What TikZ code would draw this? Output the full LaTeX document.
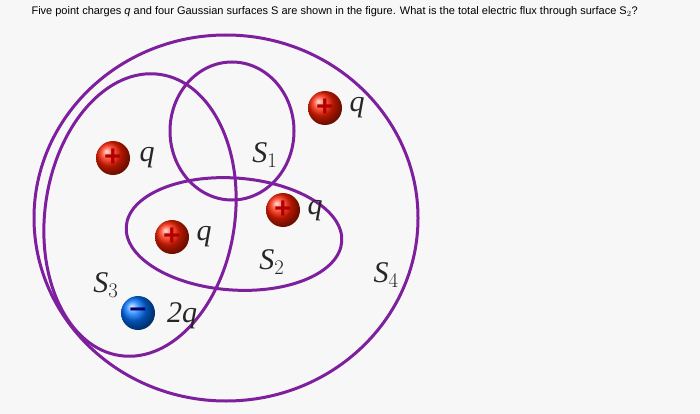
\documentclass[tikz,border=0pt]{standalone}
\usepackage{fontspec}
\setmainfont{Liberation Sans}
\newfontfamily\serifb{Liberation Serif}
\definecolor{surfc}{HTML}{7E1F9E}
\begin{document}
\begin{tikzpicture}[x=1pt,y=-1pt,
 surf/.style={draw=surfc,line width=3pt},
 poscharge/.style={circle,minimum size=34pt,inner sep=0pt,ball color=red!75!orange,text=red!70!black,font=\bfseries\fontsize{30}{30}\selectfont},
 negcharge/.style={circle,minimum size=34pt,inner sep=0pt,ball color=blue!55!cyan,text=blue!40!black,font=\bfseries\fontsize{30}{30}\selectfont},
 lab/.style={font=\serifb\itshape\fontsize{30}{30}\selectfont,text=black!85}]
\fill[white!94!gray] (0,0) rectangle (700,414);
\useasboundingbox (0,0) rectangle (700,414);
\node[anchor=west,font=\fontsize{11}{11}\selectfont] (t) at (28,12) {Five point charges \textit{q} and four Gaussian surfaces S are shown in the figure. What is the total electric flux through surface S$_2$?};
\draw[surf] (226,218) ellipse[x radius=192,y radius=183];
\draw[surf] (232,131) ellipse[x radius=62,y radius=69];
\draw[surf,rotate around={-8:(140,215)}] (140,215) ellipse[x radius=95,y radius=142];
\draw[surf,rotate around={-4:(234,234)}] (234,234) ellipse[x radius=108,y radius=56];
\node[poscharge] (c1) at (113,158) {+}; \node[lab] (q1) at (147,158) {q};
\node[poscharge] (c2) at (325,108) {+}; \node[lab] (q2) at (357,108) {q};
\node[poscharge] (c3) at (283,210) {+}; \node[lab] (q3) at (315,211) {q};
\node[poscharge] (c4) at (172,237) {+}; \node[lab] (q4) at (204,237) {q};
\node[negcharge] (c5) at (138,313) {--}; \node[lab] (q5) at (182,316) {2q};
\node[lab] (s1) at (265,155) {S$_1$};
\node[lab] (s2) at (272,262) {S$_2$};
\node[lab] (s3) at (106,285) {S$_3$};
\node[lab] (s4) at (386,275) {S$_4$};
\end{tikzpicture}
\end{document}
